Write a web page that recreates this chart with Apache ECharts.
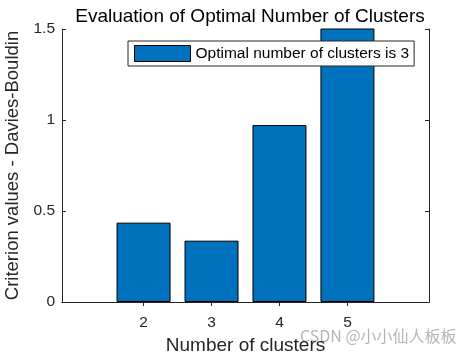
<!DOCTYPE html>
<html><head><meta charset="utf-8">
<script src="https://cdn.jsdelivr.net/npm/echarts@6/dist/echarts.min.js"></script>
<style>html,body{margin:0;padding:0;background:#fff}#c{width:474px;height:355px}</style>
</head><body><div id="c"></div>
<script>
const categories = [2, 3, 4, 5];
const values = [0.436, 0.337, 0.972, 1.56];
const yTicks = [0, 0.5, 1, 1.5];
const seriesName = 'Optimal number of clusters is 3';

const chart = echarts.init(document.getElementById('c'));
const font = '"Liberation Sans", Arial, sans-serif';
const axisColor = '#262626';
const fmtY = v => (yTicks.indexOf(v) >= 0 ? String(v) : '');
chart.setOption({
  animation: false,
  textStyle: { fontFamily: font },
  title: {
    text: 'Evaluation of Optimal Number of Clusters',
    left: 245, top: 2, textAlign: 'center',
    textStyle: { fontSize: 19, fontWeight: 'normal', color: '#000', fontFamily: font }
  },
  grid: { left: 62, top: 29, right: 45, bottom: 53, containLabel: false, outerBoundsMode: 'none' },
  legend: {
    left: 128, top: 41, padding: [4, 5, 4, 6],
    borderColor: '#262626', borderWidth: 1, backgroundColor: '#fff',
    itemWidth: 56, itemHeight: 16, itemGap: 4,
    textStyle: { fontSize: 15.5, color: '#000', fontFamily: font },
    data: [{ name: seriesName, icon: 'rect', itemStyle: { borderColor: '#000', borderWidth: 1 } }]
  },
  xAxis: [{
    type: 'value', min: 0.8, max: 6.2, interval: 1,
    name: 'Number of clusters', nameLocation: 'middle', nameGap: 32,
    nameTextStyle: { fontSize: 19, color: '#262626', fontFamily: font },
    axisLine: { show: true, onZero: false, lineStyle: { color: axisColor, width: 1 } },
    axisTick: { show: true, inside: true, length: 4, customValues: categories, lineStyle: { color: axisColor } },
    axisLabel: { fontSize: 15.5, color: '#262626', margin: 13, customValues: categories, hideOverlap: false, formatter: v => String(v) },
    splitLine: { show: false }
  }, {
    type: 'value', position: 'top', min: 0.8, max: 6.2, interval: 1,
    axisLine: { show: true, lineStyle: { color: axisColor, width: 1 } },
    axisTick: { show: true, inside: true, length: 4, customValues: categories, lineStyle: { color: axisColor } },
    axisLabel: { show: false }, splitLine: { show: false }
  }],
  yAxis: [{
    type: 'value', min: 0, max: 1.5, interval: 0.5,
    name: 'Criterion values - Davies-Bouldin', nameLocation: 'middle', nameGap: 38,
    nameTextStyle: { fontSize: 18.5, color: '#262626', fontFamily: font },
    axisLine: { show: true, lineStyle: { color: axisColor, width: 1 } },
    axisTick: { show: true, inside: true, length: 4, lineStyle: { color: axisColor } },
    axisLabel: { fontSize: 15.5, color: '#262626', margin: 7, formatter: fmtY },
    splitLine: { show: false }
  }, {
    type: 'value', position: 'right', min: 0, max: 1.5, interval: 0.5,
    axisLine: { show: true, lineStyle: { color: axisColor, width: 1 } },
    axisTick: { show: true, inside: true, length: 4, lineStyle: { color: axisColor } },
    axisLabel: { show: false }, splitLine: { show: false }
  }],
  series: [{
    name: seriesName, type: 'bar', xAxisIndex: 0, yAxisIndex: 0,
    data: categories.map((c, i) => [c, values[i]]),
    barWidth: 54, clip: true,
    itemStyle: { color: '#0072BD', borderColor: '#000', borderWidth: 1 }
  }],
  graphic: [{
    type: 'text', left: 300, top: 328,
    style: { text: 'CSDN @小小仙人板板', fontSize: 16, fill: 'rgba(150,150,150,0.7)', fontFamily: '"Noto Sans CJK SC", sans-serif' }
  }]
});
</script></body></html>
